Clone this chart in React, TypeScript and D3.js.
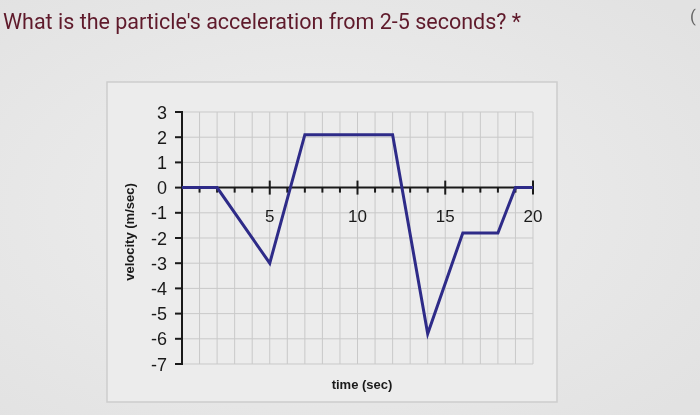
import React from 'react';
import * as d3 from 'd3';

// values
const timeSec = [0, 2, 5, 7, 12, 14, 16, 18, 19, 20];
const velocity = [0, 0, -3, 2.1, 2.1, -5.8, -1.8, -1.8, 0, 0];
const yTicks = [3, 2, 1, 0, -1, -2, -3, -4, -5, -6, -7];
const xLabels = [5, 10, 15, 20];
const question = "What is the particle's acceleration from 2-5 seconds? *";

const W = 700;
const H = 415;

const App: React.FC = () => {
  const x = d3.scaleLinear().domain([0, 20]).range([182, 533]);
  const y = d3.scaleLinear().domain([-7, 3]).range([364, 112]);

  const pts = timeSec.map((t, i) => [t, velocity[i]] as [number, number]);
  const line = d3.line<[number, number]>()
    .x(d => x(d[0]))
    .y(d => y(d[1]));

  const gridX = d3.range(0, 21);
  const gridY = d3.range(-7, 4);
  const y0 = y(0);

  return (
    <div style={{ position: 'fixed', left: 0, top: 0 }}>
      <svg width={W} height={H} style={{ display: 'block' }}>
        <defs>
          <radialGradient id="bg" cx="45%" cy="50%" r="70%">
            <stop offset="0%" stopColor="#efefef" />
            <stop offset="100%" stopColor="#e2e2e2" />
          </radialGradient>
        </defs>
        <rect width={W} height={H} fill="url(#bg)" />

        <text x={3} y={29} fontFamily="Roboto" fontSize={21.5} fill="#5f1a2b">
          {question}
        </text>
        <text x={690} y={22} fontFamily="Roboto" fontSize={17} fill="#666">(</text>

        {/* frame */}
        <rect x={107} y={82} width={450} height={320} fill="#ececec" stroke="#cdcdcd" strokeWidth={1.5} />

        {/* grid */}
        <g stroke="#c9c9c9" strokeWidth={1}>
          {gridX.map(t => (
            <line key={'gx' + t} x1={x(t)} x2={x(t)} y1={y(3)} y2={y(-7)} />
          ))}
          {gridY.map(v => (
            <line key={'gy' + v} x1={x(0)} x2={x(20)} y1={y(v)} y2={y(v)} />
          ))}
        </g>

        {/* y axis */}
        <g stroke="#1a1a1a" strokeWidth={2}>
          <line x1={x(0)} x2={x(0)} y1={y(3) - 1} y2={y(-7) + 1} />
          {yTicks.map(v => (
            <line key={'yt' + v} x1={x(0) - 7} x2={x(0)} y1={y(v)} y2={y(v)} />
          ))}
        </g>
        <g fontFamily="Liberation Sans, Arial" fontSize={18} fill="#1a1a1a" textAnchor="end">
          {yTicks.map(v => (
            <text key={'yl' + v} x={x(0) - 15} y={y(v) + 6.5}>{v}</text>
          ))}
        </g>

        {/* x axis */}
        <g stroke="#1a1a1a" strokeWidth={2}>
          <line x1={x(0)} x2={x(20)} y1={y0} y2={y0} />
          {gridX.filter(t => t > 0).map(t => (
            t % 5 === 0
              ? <line key={'xt' + t} x1={x(t)} x2={x(t)} y1={y0 - 7} y2={y0 + 7} />
              : <line key={'xt' + t} x1={x(t)} x2={x(t)} y1={y0} y2={y0 + 5} />
          ))}
        </g>
        <g fontFamily="Liberation Sans, Arial" fontSize={17} fill="#1a1a1a" textAnchor="middle">
          {xLabels.map(t => (
            <text key={'xl' + t} x={x(t)} y={y0 + 34}>{t}</text>
          ))}
        </g>

        {/* velocity line */}
        <path d={line(pts) || ''} fill="none" stroke="#2e2b88" strokeWidth={3} strokeLinejoin="miter" />

        {/* axis titles */}
        <text
          transform={`translate(134,232) rotate(-90)`}
          fontFamily="Liberation Sans, Arial"
          fontWeight="bold"
          fontSize={13}
          fill="#1a1a1a"
          textAnchor="middle"
        >
          velocity (m/sec)
        </text>
        <text x={362} y={389} fontFamily="Liberation Sans, Arial" fontWeight="bold" fontSize={13} fill="#1a1a1a" textAnchor="middle">
          time (sec)
        </text>
      </svg>
    </div>
  );
};

export default App;
